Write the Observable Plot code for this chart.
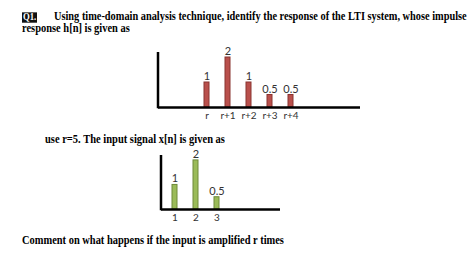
<!DOCTYPE html>
<html>
<head>
<meta charset="utf-8">
<script src="https://cdn.jsdelivr.net/npm/d3@7"></script>
<script src="https://cdn.jsdelivr.net/npm/@observablehq/plot@0.6"></script>
<style>
  html, body { margin: 0; padding: 0; background: #fff; }
  #wrap { position: relative; width: 474px; height: 260px; overflow: hidden; background: #fff; }
  .t { position: absolute; white-space: nowrap; font-family: "Liberation Serif", "Times New Roman", serif; font-weight: bold; color: #000; line-height: 1; transform: scaleY(1.15); transform-origin: 0 50%; }
  .q { background: #111; color: #fff; padding: 0 1px; }
  .chart { position: absolute; }
</style>
</head>
<body>
<div id="wrap"></div>
<script>
// ---- data ----
const hCategories = ["r", "r+1", "r+2", "r+3", "r+4"];
const hValues = [1, 2, 1, 0.5, 0.5];
const xCategories = ["1", "2", "3"];
const xValues = [1, 2, 0.5];

const qLabel = "Q1.";
const line1 = "Using time-domain analysis technique, identify the response of the LTI system, whose impulse";
const line2 = "response h[n] is given as";
const line3 = "use r=5. The input signal x[n] is given as";
const line4 = "Comment on what happens if the input is amplified r times";

const wrap = document.getElementById("wrap");

function addText(txt, left, centerY, targetWidth, cls) {
  const el = document.createElement("span");
  el.className = "t" + (cls ? " " + cls : "");
  el.textContent = txt;
  el.style.left = left + "px";
  el.style.fontSize = "10px";
  wrap.appendChild(el);
  const w = el.getBoundingClientRect().width;
  const fs = 10 * targetWidth / w;
  el.style.fontSize = fs + "px";
  el.style.top = (centerY - fs * 0.5) + "px";
  return el;
}

addText(qLabel, 22, 17, 15, "q");
addText(line1, 54, 17, 413);
addText(line2, 22, 29, 108);
addText(line3, 45, 140.5, 180);
addText(line4, 22, 241.5, 262);

function axisLine(index, scales, values, dims) {
  const l = document.createElementNS("http://www.w3.org/2000/svg", "line");
  l.setAttribute("x1", dims.marginLeft);
  l.setAttribute("x2", dims.marginLeft);
  l.setAttribute("y1", dims.marginTop);
  l.setAttribute("y2", dims.height - dims.marginBottom + 1.25);
  l.setAttribute("stroke", "#000");
  l.setAttribute("stroke-width", 2.5);
  return l;
}

function stemChart({cats, vals, fill, stroke, left, top, width, height, mL, mR, mT, mB, range, yMax, inset}) {
  const data = cats.map((c, i) => ({c, v: vals[i]}));
  const svg = Plot.plot({
    width, height,
    marginLeft: mL, marginRight: mR, marginTop: mT, marginBottom: mB,
    x: {type: "band", domain: cats, range, padding: 0, align: 0.5},
    y: {domain: [0, yMax], axis: null},
    style: {background: "transparent", fontFamily: "Lato, 'Open Sans', sans-serif", overflow: "visible"},
    marks: [
      Plot.barY(data, {x: "c", y: "v", fill, stroke, strokeWidth: 1, insetLeft: inset, insetRight: inset}),
      Plot.text(data, {x: "c", y: "v", text: d => String(d.v), dy: -6, fill: "#333", fontSize: 11}),
      Plot.ruleY([0], {stroke: "#000", strokeWidth: 2.5}),
      axisLine,
      Plot.axisX({tickSize: 0, tickPadding: 4, fontSize: 10, fill: "#333", label: null})
    ]
  });
  svg.classList.add("chart");
  svg.style.left = left + "px";
  svg.style.top = top + "px";
  wrap.appendChild(svg);
}

stemChart({
  cats: hCategories, vals: hValues, fill: "#b9504c", stroke: "#8a3431",
  left: 140, top: 40, width: 230, height: 85,
  mL: 18, mR: 10, mT: 12, mB: 18,
  range: [55.5, 161], yMax: 2.2, inset: 8
});

stemChart({
  cats: xCategories, vals: xValues, fill: "#9bbb59", stroke: "#6f8a3a",
  left: 140, top: 140, width: 160, height: 90,
  mL: 21, mR: 20, mT: 15, mB: 21,
  range: [23.5, 86.5], yMax: 2.2, inset: 8
});
</script>
</body>
</html>
